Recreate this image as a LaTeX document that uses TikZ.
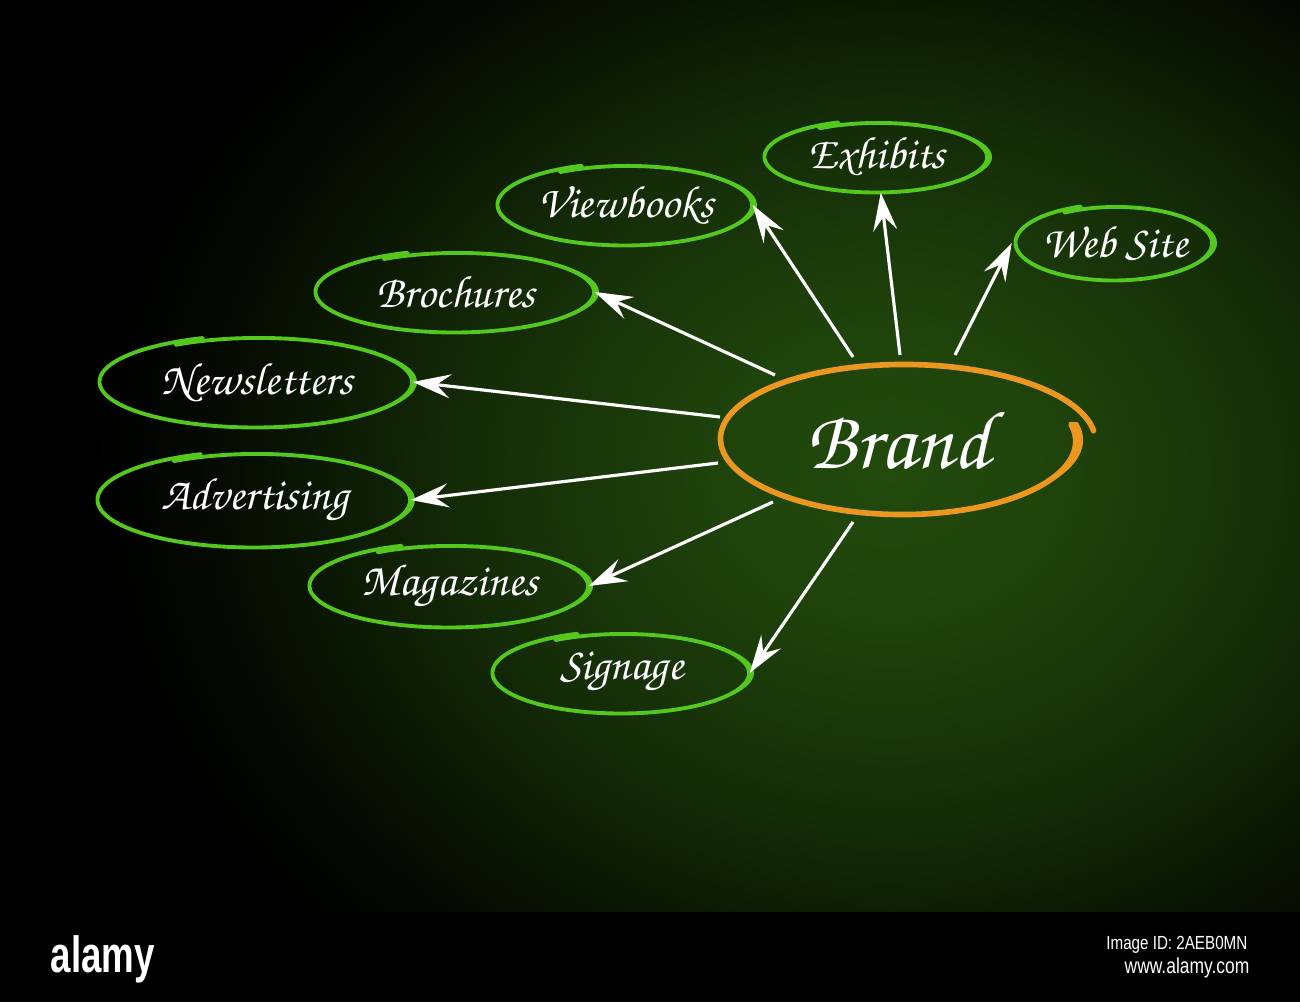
\documentclass[tikz,border=0pt]{standalone}
\usepackage{fontspec}
\usetikzlibrary{shapes.geometric,arrows.meta,calc}
\newfontfamily\barfont{Liberation Sans}
\newcommand{\handfont}{\fontencoding{T1}\fontfamily{pzc}\fontseries{mb}\fontshape{it}\selectfont}
\definecolor{bggreen}{RGB}{34,74,12}
\definecolor{leafgreen}{RGB}{84,200,30}
\definecolor{brandorange}{RGB}{236,152,32}
\pgfdeclareradialshading{glow}{\pgfpoint{0bp}{0bp}}{%
  color(0bp)=(bggreen); color(5bp)=(bggreen!92!black); color(13bp)=(bggreen!58!black);
  color(20bp)=(bggreen!16!black); color(24bp)=(black); color(50bp)=(black)}
\tikzset{
  bubbletext/.style={ellipse, inner sep=0pt, text=white,
    font=\handfont\fontsize{12.9}{15}\selectfont},
  brandtext/.style={ellipse, inner sep=0pt, text=white,
    font=\handfont\fontsize{23.5}{27}\selectfont},
  stroke/.style={draw=leafgreen, line width=1.1pt, line cap=round},
  arr/.style={draw=white, line width=0.9pt, -{Stealth[length=3.8mm,width=2.4mm,inset=1.4mm]}},
}
% name, x, y, rx, ry, text
\newcommand{\bubble}[6]{%
  \node[bubbletext, minimum width=2*#4 cm, minimum height=2*#5 cm] (#1) at (#2,#3) {#6};
  \draw[stroke] plot[smooth, samples=90, domain=0:372, variable=\t]
    ({#2+(#4-0.015+0.05*\t/372)*cos(122-\t)}, {#3+(#5-0.012+0.03*\t/372)*sin(122-\t)});
  \fill[leafgreen] (#1.center) ++(-72:#4+0.05 and #5) arc[start angle=-72, end angle=72, x radius=#4+0.05, y radius=#5]
     -- ($(#1.center)+(72:#4-0.01 and #5)$) arc[start angle=72, end angle=-72, x radius=#4-0.01, y radius=#5] -- cycle;
}
\begin{document}
\begin{tikzpicture}
\useasboundingbox (0,0) rectangle (13,10.02);
\fill[black] (0,0) rectangle (13,10.02);
\begin{scope}
  \clip (0,0.90) rectangle (13,10.02);
  \shade[shading=glow] (8.9,5.3) ellipse (8.3 and 6.9);
\end{scope}
\fill[black] (0,0) rectangle (13,0.90);

% brand
\node[brandtext, minimum width=3.7cm, minimum height=1.5cm] (brand) at (9.03,5.62) {Brand\hspace*{0.1cm}};
\draw[brandorange, line width=1.6pt, line cap=round]
  plot[smooth, samples=80, domain=0:365, variable=\t]
  ({9.03+(1.72+0.20*\t/365)*cos(12-\t)}, {5.62+(0.74+0.02*\t/365)*sin(12-\t)});
\fill[brandorange] ({9.03+1.80*cos(14)},{5.62+0.74*sin(14)})
  arc[start angle=14, end angle=-60, x radius=1.80, y radius=0.74]
  -- ({9.03+1.71*cos(-60)},{5.62+0.74*sin(-60)})
  arc[start angle=-60, end angle=14, x radius=1.71, y radius=0.74] -- cycle;

% bubbles
\bubble{exh}{8.77}{8.45}{1.10}{0.35}{Exhibits}
\bubble{view}{6.26}{7.97}{1.26}{0.40}{Viewbooks}
\bubble{web}{11.15}{7.59}{0.97}{0.37}{Web Site}
\bubble{broch}{4.56}{7.10}{1.38}{0.40}{Brochures}
\bubble{news}{2.57}{6.20}{1.55}{0.45}{Newsletters}
\bubble{adv}{2.55}{5.02}{1.55}{0.47}{Advertising}
\bubble{mag}{4.50}{4.16}{1.38}{0.41}{Magazines}
\bubble{sign}{6.22}{3.29}{1.27}{0.40}{Signage}

% arrow start points
\coordinate (sExh) at (9.00,6.47);
\coordinate (sView) at (8.53,6.45);
\coordinate (sWeb) at (9.55,6.47);
\coordinate (sBroch) at (7.75,6.27);
\coordinate (sNews) at (7.20,5.85);
\coordinate (sAdv) at (7.18,5.39);
\coordinate (sMag) at (7.73,5.00);
\coordinate (sSign) at (8.53,4.80);

\draw[arr] (sExh) -- (exh.-84);
\draw[arr] (sView) -- (view.east);
\draw[arr] (sWeb) -- (web.west);
\draw[arr] (sBroch) -- (broch.east);
\draw[arr] (sNews) -- (news.east);
\draw[arr] (sAdv) -- (adv.east);
\draw[arr] (sMag) -- (mag.east);
\draw[arr] (sSign) -- (sign.east);

% bottom bar
\node[text=white, inner sep=0pt, anchor=base west] (logo) at (0.50,0.30)
  {\scalebox{0.72}[1]{\barfont\bfseries\fontsize{14.5}{15}\selectfont alamy}};
\node[text=white, inner sep=0pt, anchor=base east] (imgid) at (12.48,0.53)
  {\scalebox{0.8}[1]{\barfont\fontsize{5.4}{6}\selectfont Image ID: 2AEB0MN}};
\node[text=white, inner sep=0pt, anchor=base east] (url) at (12.50,0.29)
  {\scalebox{0.8}[1]{\barfont\fontsize{6.2}{7}\selectfont www.alamy.com}};
\end{tikzpicture}
\end{document}
